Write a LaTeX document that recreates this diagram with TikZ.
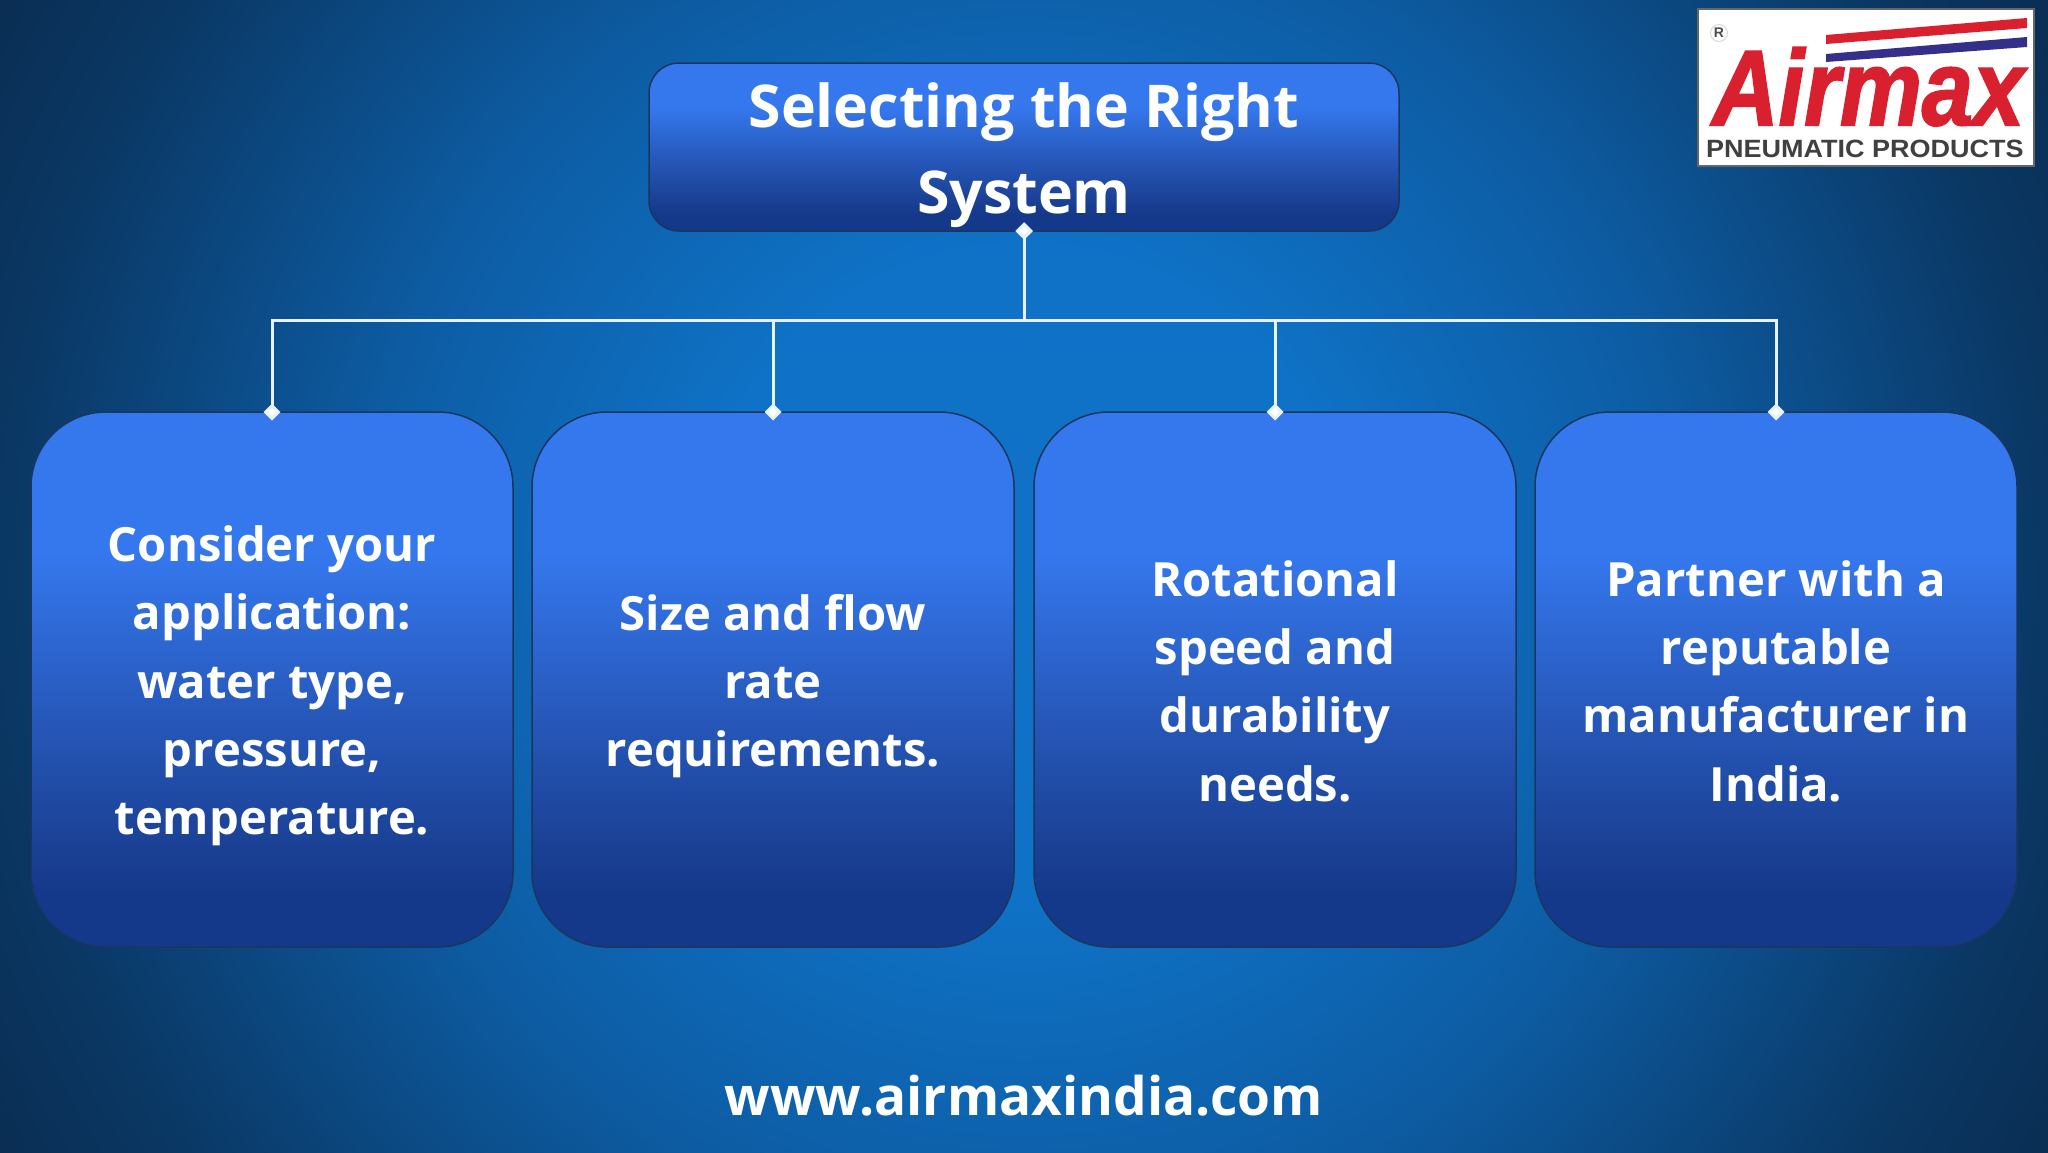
\documentclass[tikz,border=0pt]{standalone}
\usepackage{fontspec}
\usetikzlibrary{arrows.meta}
\newfontfamily\osans{Open Sans}
\newfontfamily\lsans{Liberation Sans}
\definecolor{boxtop}{HTML}{3578EE}
\definecolor{boxmid}{HTML}{2657B8}
\definecolor{boxlow}{HTML}{1B4297}
\definecolor{boxbot}{HTML}{15398A}
\definecolor{boxline}{HTML}{1A3660}
\definecolor{bgc}{HTML}{0F72C6}
\definecolor{bgm}{HTML}{0D5CA3}
\definecolor{bge}{HTML}{0A3763}
\definecolor{bgk}{HTML}{0A2D52}
\definecolor{linkc}{HTML}{E8F3FB}
\definecolor{logored}{HTML}{D9202E}
\definecolor{logoblue}{HTML}{34308A}
\pgfdeclareradialshading{bgshade}{\pgfpointorigin}{%
  color(0bp)=(bgc); color(8bp)=(bgc); color(16bp)=(bgm); color(25bp)=(bge); color(29bp)=(bgk); color(50bp)=(bgk)}
\pgfdeclareverticalshading{boxshade}{100bp}{%
  color(0bp)=(boxbot); color(25bp)=(boxbot); color(30bp)=(boxbot); color(35bp)=(boxlow); color(46bp)=(boxmid); color(62bp)=(boxtop); color(75bp)=(boxtop); color(100bp)=(boxtop)}
\tikzset{
  x=1pt,y=-1pt,
  panel/.style={draw=boxline,line width=1.5pt,shade,shading=boxshade,shape=rectangle,
    inner sep=0pt,outer sep=0pt},
  titlebox/.style={panel,minimum width=750pt,minimum height=168pt,rounded corners=30pt},
  card/.style={panel,minimum width=482pt,minimum height=535pt,rounded corners=75pt},
  titletext/.style={text=white,align=center,inner sep=0pt,font=\osans\bfseries\fontsize{59}{86}\selectfont},
  cardtext/.style={text=white,align=center,inner sep=0pt,font=\osans\bfseries\fontsize{47.2}{68.3}\selectfont},
  conn/.style={draw=linkc,line width=3pt,
    {Diamond[width=17pt,length=17pt,fill=white]}-{Diamond[width=17pt,length=17pt,fill=white]},
    shorten <=-8.5pt,shorten >=-8.5pt},
  url/.style={text=white,font=\osans\bfseries\fontsize{53.2}{60}\selectfont,inner sep=0pt},
}
\begin{document}
\begin{tikzpicture}
\useasboundingbox (0,0) rectangle (2048,1152);
\begin{scope}
\clip (0,0) rectangle (2048,1152);
\shade[shading=bgshade] (0,-448) rectangle (2048,1600);
\end{scope}

\node[titlebox] (title) at (1024,147) {};
\node[card] (c1) at (272,679.5) {};
\node[card] (c2) at (773,679.5) {};
\node[card] (c3) at (1275,679.5) {};
\node[card] (c4) at (1776,679.5) {};

\node[titletext] (titlet) at (1024,155) {Selecting the Right\\System};
\node[cardtext] (c1t) at (272,686) {Consider your\\application:\\water type,\\pressure,\\temperature.};
\node[cardtext] (c2t) at (773,686) {Size and flow\\rate\\requirements.};
\node[cardtext] (c3t) at (1275,681) {Rotational\\speed and\\durability\\needs.};
\node[cardtext] (c4t) at (1776,681) {Partner with a\\reputable\\manufacturer in\\India.};

\coordinate (bus) at (1024,320);
\foreach \t in {c1,c2,c3,c4}
  \draw[conn] (title.south) -- (bus) -| (\t.north);

\node[url] (site) at (1024,1096) {www.airmaxindia.com};

% logo
\fill[white,draw=black!60,line width=2pt] (1698,9) rectangle (2034,166);
\fill[logored] (1826,35) -- (2027,18) -- (2027,28) -- (1826,44) -- cycle;
\fill[logoblue] (1826,54) -- (2027,37) -- (2027,47) -- (1826,62) -- cycle;
\node[draw=black!15,line width=1pt,circle,fill=white,inner sep=0pt,minimum size=17pt,text=black!70,
  font=\lsans\bfseries\fontsize{14}{14}\selectfont] (reg) at (1719,33) {R};
\node[anchor=base west,inner sep=0pt,text=logored,xscale=.86,
  font=\lsans\bfseries\itshape\fontsize{107}{107}\selectfont] (brand) at (1712,125)
  {\special{pdf:literal 2 Tr 2 w 0.851 0.125 0.18 RG}Airmax\special{pdf:literal 0 Tr}};
\node[anchor=base west,inner sep=0pt,text=black!75,xscale=1.08,
  font=\lsans\bfseries\fontsize{25}{25}\selectfont] (tag) at (1706,157) {PNEUMATIC PRODUCTS};
\end{tikzpicture}
\end{document}
